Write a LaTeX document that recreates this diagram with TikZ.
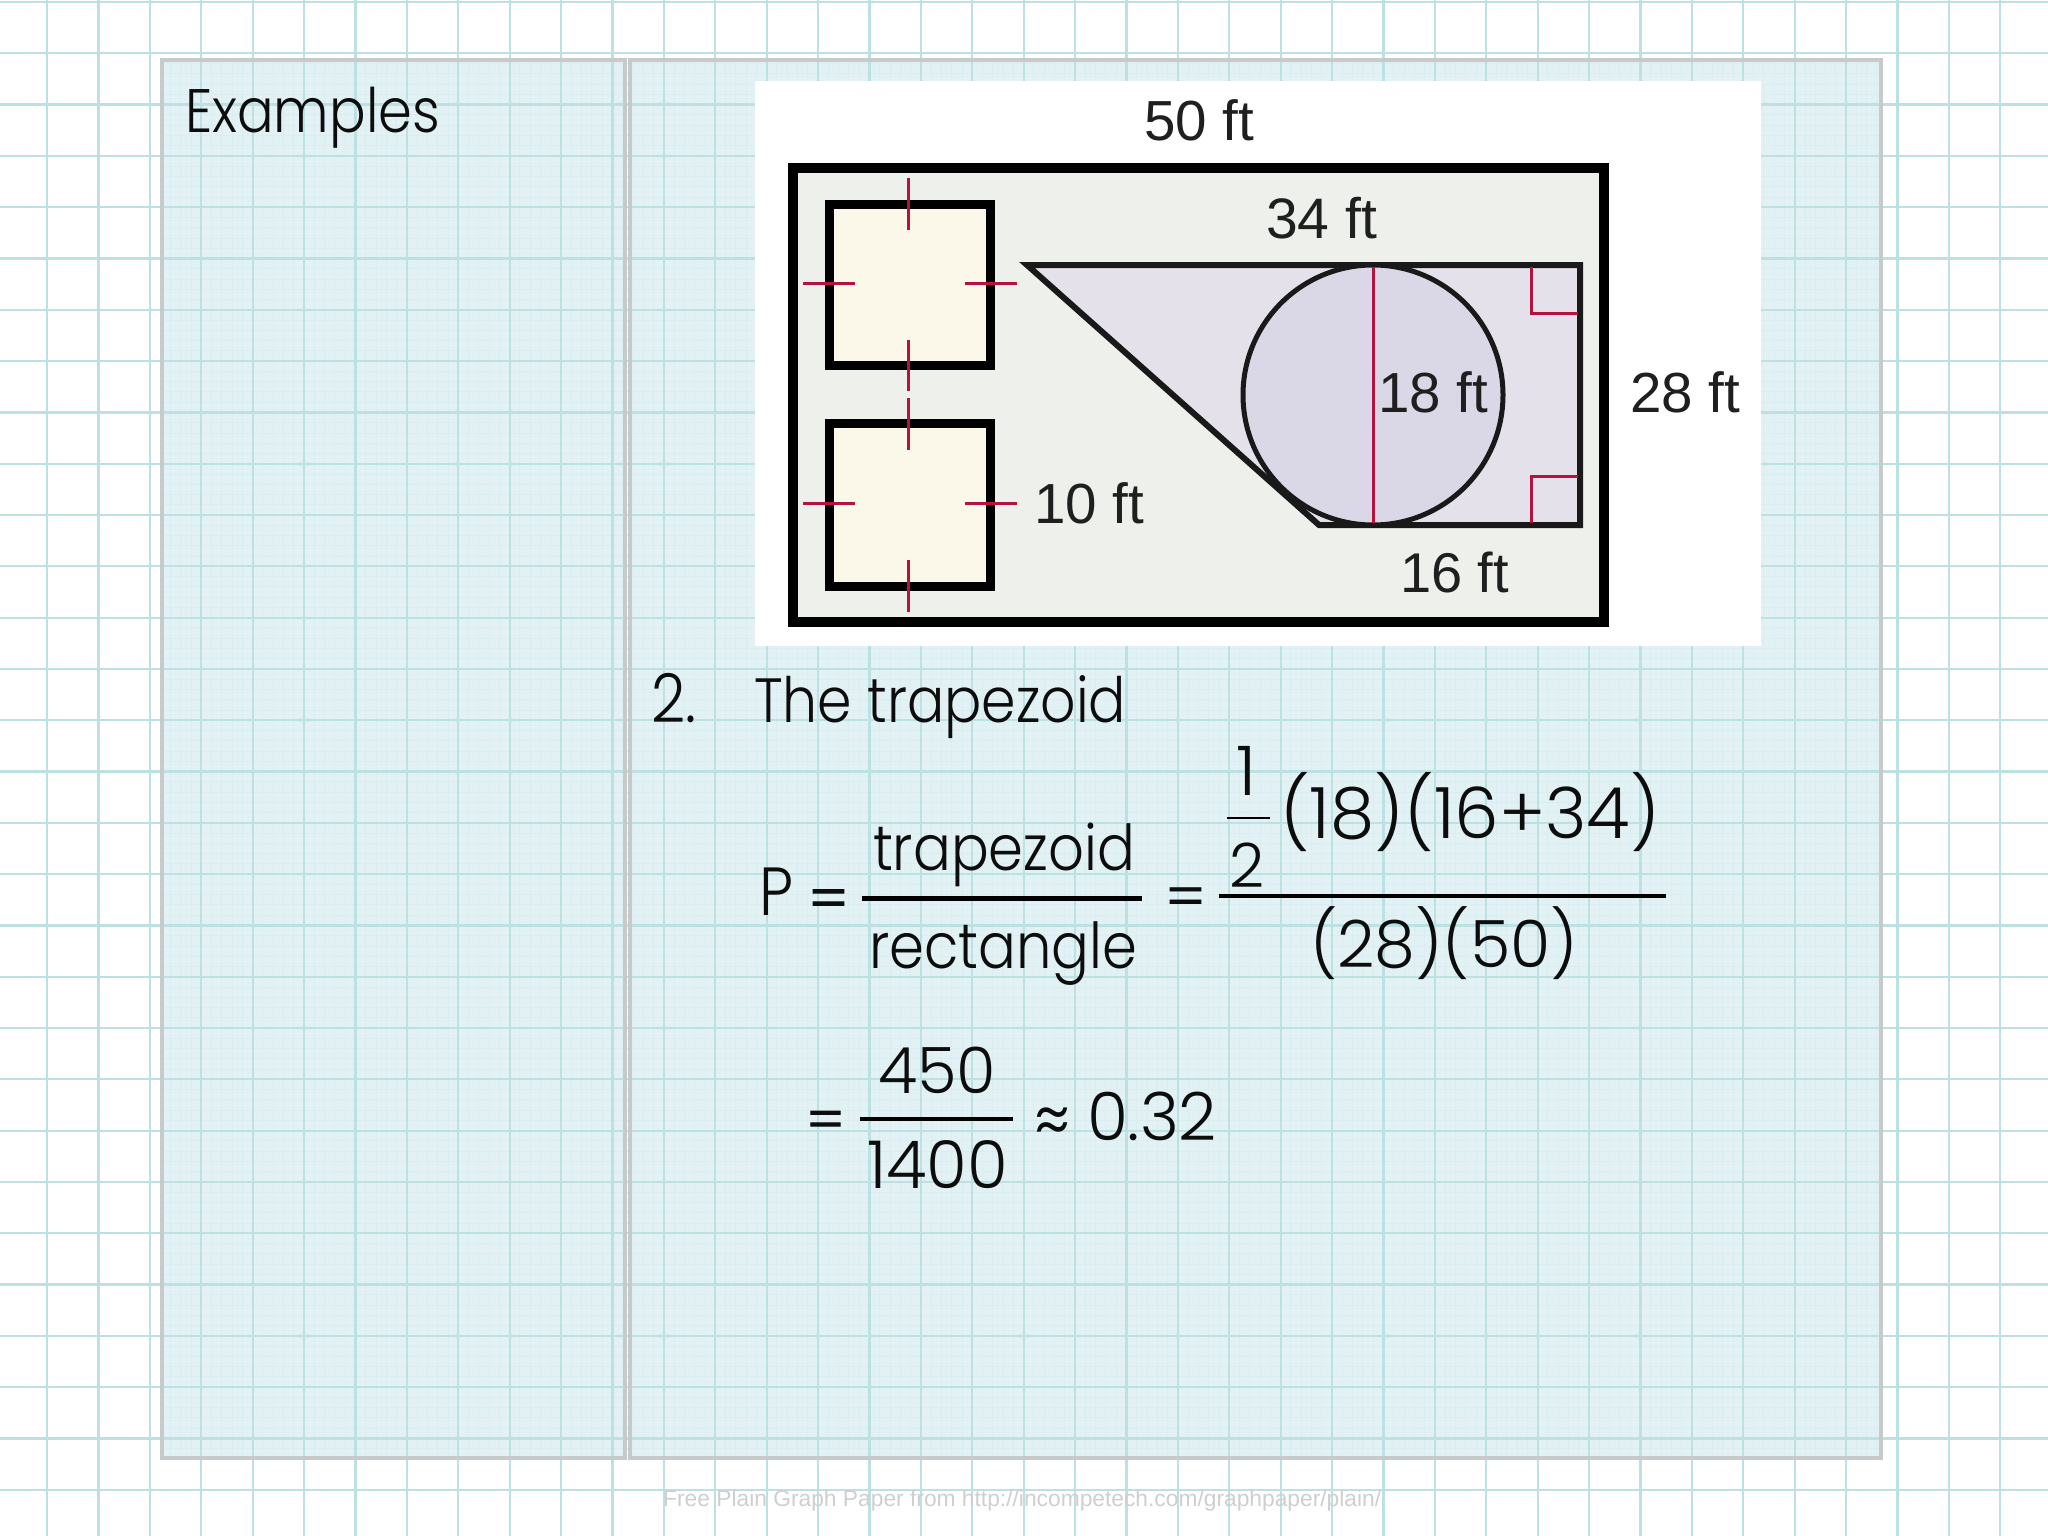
\documentclass[tikz,border=0pt]{standalone}
\usepackage{fontspec}
\usepackage{graphicx}
\setmainfont{Liberation Sans}
\newfontfamily\hand{Poppins Light}
\definecolor{gridc}{HTML}{BBE1E3}
\definecolor{panelc}{HTML}{E2F1F4}
\definecolor{finec}{HTML}{DBEDF0}
\definecolor{borderc}{HTML}{C6CACB}
\definecolor{roomc}{HTML}{EEF0EC}
\definecolor{squarec}{HTML}{FBF8EA}
\definecolor{trapc}{HTML}{E4E1EA}
\definecolor{circc}{HTML}{DAD7E6}
\definecolor{redc}{HTML}{B5123E}
\definecolor{markc}{HTML}{CFCFCF}
\newcommand\fitw[2]{\resizebox{#1pt}{!}{#2}}
\newcommand\fitt[2]{\scalebox{1}[1.13]{\resizebox{#1pt}{!}{#2}}}
\tikzset{
  hw/.style={inner sep=0pt,outer sep=0pt,anchor=base west,font=\hand\fontsize{60}{70}\selectfont,text=black!95},
  lab/.style={inner sep=0pt,outer sep=0pt,anchor=base west,font=\fontsize{53}{60}\selectfont,text=black!88},
  panel/.style={fill=panelc,draw=none},
  panelframe/.style={draw=borderc,line width=3.5pt},
  tick/.style={draw=redc,line width=3pt},
  tickb/.style={draw=redc,line width=3.6pt},
  box/.style={draw=black,fill=squarec,line width=9pt,line join=miter},
  gridmain/.style={draw=gridc,line width=2.2pt},
  gridfine/.style={draw=finec,line width=0.8pt},
}
\begin{document}
\begin{tikzpicture}[x=1pt,y=-1pt]
\useasboundingbox (0,0) rectangle (2048,1536);
\fill[white] (0,0) rectangle (2048,1536);
% panels
\path[panel] (162,60) rectangle (625,1458);
\path[panel] (630,60) rectangle (1881,1458);
\begin{scope}
\clip (162,60) rectangle (1881,1458);
\foreach \k in {16,...,183} \draw[gridfine] ({-4.4+10.28*\k},60) -- ({-4.4+10.28*\k},1458);
\foreach \k in {5,...,142} \draw[gridfine] (162,{2+10.26*\k}) -- (1881,{2+10.26*\k});
\end{scope}
% main grid
\foreach \k in {1,...,40} \draw[gridmain] ({-4.4+51.4*\k},0) -- ({-4.4+51.4*\k},1536);
\foreach \k in {0,...,29} \draw[gridmain] (0,{2+51.3*\k}) -- (2048,{2+51.3*\k});
\path[panelframe] (162,60) rectangle (625,1458);
\path[panelframe] (630,60) rectangle (1881,1458);
% white figure
\fill[white] (755,81) rectangle (1761,646);
\draw[fill=roomc,draw=black,line width=9.5pt] (793,168) rectangle (1604,622);
\draw[box] (829.5,204.5) rectangle (990.5,365.5);
\draw[box] (829.5,423.5) rectangle (990.5,586.5);
% trapezoid and circle
\draw[fill=trapc,draw=black!90,line width=6pt,line join=miter] (1027,265) -- (1580,265) -- (1580,525) -- (1319,525) -- cycle;
\draw[fill=circc,draw=black!90,line width=5pt] (1373,395) circle [radius=130];
% right angle marks
\draw[tick] (1531,267) -- (1531,313) -- (1578,313);
\draw[tick] (1531,523) -- (1531,476) -- (1578,476);
% diameter
\draw[tick] (1373,267) -- (1373,523);
% congruence ticks
\draw[tick] (908,178) -- (908,230);
\draw[tick] (908,340) -- (908,391);
\draw[tick] (908,398) -- (908,450);
\draw[tick] (908,560) -- (908,612);
\draw[tickb] (803,283.5) -- (855,283.5);
\draw[tickb] (965,283.5) -- (1017,283.5);
\draw[tickb] (803,503.5) -- (855,503.5);
\draw[tickb] (965,503.5) -- (1017,503.5);
% figure labels
\node[lab] (l50) at (1144,141) {\fitw{110}{50 ft}};
\node[lab] (l34) at (1266,238) {\fitw{111}{34 ft}};
\node[lab] (l18) at (1378,412) {\fitw{110}{18 ft}};
\node[lab] (l28) at (1630,412) {\fitw{110}{28 ft}};
\node[lab] (l10) at (1034,523) {\fitw{110}{10 ft}};
\node[lab] (l16) at (1400,592) {\fitw{109}{16 ft}};
% handwriting
\node[hw] (ex) at (185,132) {\fitt{255}{Examples}};
\node[hw] (num) at (651,722) {\fitt{45}{2.}};
\node[hw] (title) at (754,722) {\fitt{372}{The trapezoid}};
\node[hw] (pp) at (759,915) {\fitt{34}{P}};
\node[hw] (eqa) at (808,920) {\fitw{41}{\addfontfeature{FakeBold=1.5}=}};
\node[hw] (fta) at (873,870) {\fitt{262}{trapezoid}};
\node[hw] (ftb) at (869,968) {\fitt{268}{rectangle}};
\node[hw] (eqb) at (1165,918) {\fitw{41}{\addfontfeature{FakeBold=1}=}};
\node[hw] (one) at (1236,795) {\fitw{20}{1}};
\node[hw] (two) at (1229,887) {\fitw{35}{2}};
\node[hw] (numr) at (1280,838) {\fitw{380}{(18)(16+34)}};
\node[hw] (denr) at (1310,967) {\fitw{268}{(28)(50)}};
\node[hw] (eqc) at (806,1140) {\fitw{39}{\addfontfeature{FakeBold=1.5}=}};
\node[hw] (n450) at (878,1093) {\fitw{118}{450}};
\node[hw] (n1400) at (867,1188) {\fitw{141}{1400}};
\node[hw] (appr) at (1034,1148) {\fitw{36}{≈}};
\node[hw] (res) at (1087,1140) {\fitw{130}{0.32}};
\draw[black,line width=5pt] (862,898) -- (1142,898);
\draw[black,line width=4.5pt] (1219,896) -- (1666,896);
\draw[black,line width=2.5pt] (1227,818) -- (1270,818);
\draw[black,line width=4pt] (860,1119) -- (1013,1119);
% watermark
\node[inner sep=0pt,anchor=base west,text=markc,font=\fontsize{23.5}{28}\selectfont] (wm) at (663,1506) {\fitw{718}{Free Plain Graph Paper from http://incompetech.com/graphpaper/plain/}};
\end{tikzpicture}
\end{document}
